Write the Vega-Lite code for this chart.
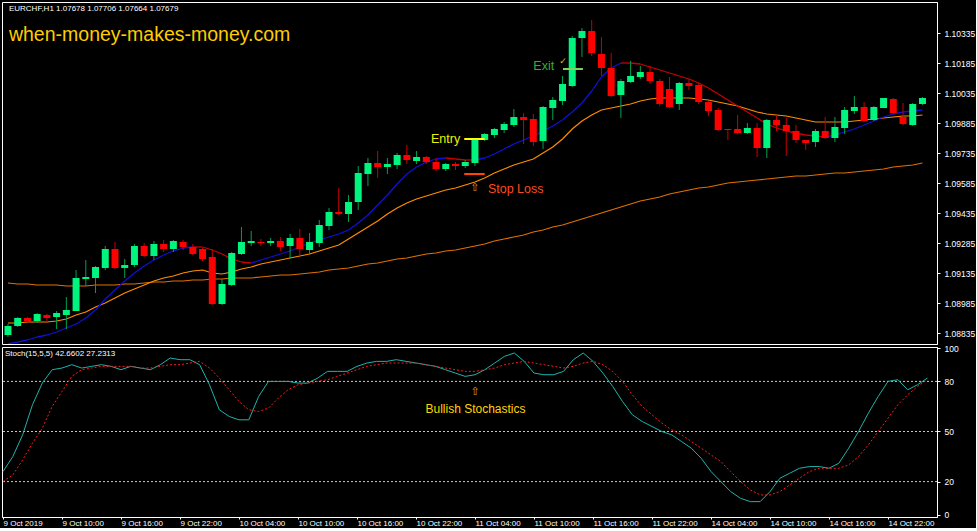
{
  "$schema": "https://vega.github.io/schema/vega-lite/v6.json",
  "background": "#000000",
  "padding": {"left": 1, "top": 1, "right": 0, "bottom": 0},
  "bounds": "flush",
  "config": {
    "view": {"stroke": "#ffffff", "strokeWidth": 1},
    "axis": {"labelFont": "Liberation Sans", "labelColor": "#ffffff", "domainColor": "#ffffff", "tickColor": "#ffffff", "grid": false, "labelOverlap": false},
    "text": {"font": "Liberation Sans"}
  },
  "datasets": {
    "bars": [
      {"i":0,"o":1.08825,"h":1.0888,"l":1.08815,"c":1.0887,"fast":1.0878,"mid":1.08885,"slow":1.09085,"k":26,"d":20},
      {"i":1,"o":1.0887,"h":1.08915,"l":1.08865,"c":1.0891,"fast":1.0879,"mid":1.08885,"slow":1.0908,"k":35,"d":24},
      {"i":2,"o":1.0891,"h":1.08915,"l":1.0889,"c":1.08895,"fast":1.088,"mid":1.0889,"slow":1.0908,"k":48,"d":33},
      {"i":3,"o":1.08895,"h":1.08935,"l":1.08885,"c":1.0893,"fast":1.08815,"mid":1.0889,"slow":1.09075,"k":66,"d":43},
      {"i":4,"o":1.08925,"h":1.0893,"l":1.0889,"c":1.0891,"fast":1.08825,"mid":1.0889,"slow":1.09075,"k":79,"d":52},
      {"i":5,"o":1.08915,"h":1.08945,"l":1.08855,"c":1.08935,"fast":1.0884,"mid":1.08895,"slow":1.09075,"k":87,"d":65},
      {"i":6,"o":1.08925,"h":1.09015,"l":1.08855,"c":1.0895,"fast":1.0886,"mid":1.08905,"slow":1.0907,"k":88,"d":74},
      {"i":7,"o":1.08945,"h":1.0915,"l":1.08945,"c":1.0911,"fast":1.0888,"mid":1.08925,"slow":1.0907,"k":90,"d":83},
      {"i":8,"o":1.09105,"h":1.092,"l":1.0907,"c":1.09115,"fast":1.0891,"mid":1.0894,"slow":1.0907,"k":88,"d":87},
      {"i":9,"o":1.0911,"h":1.0917,"l":1.09035,"c":1.09165,"fast":1.0895,"mid":1.08965,"slow":1.09075,"k":89,"d":88},
      {"i":10,"o":1.0916,"h":1.0927,"l":1.0915,"c":1.09255,"fast":1.09005,"mid":1.08985,"slow":1.09075,"k":90,"d":89},
      {"i":11,"o":1.09255,"h":1.0929,"l":1.09155,"c":1.0916,"fast":1.0905,"mid":1.0901,"slow":1.09075,"k":89,"d":89},
      {"i":12,"o":1.0916,"h":1.09205,"l":1.0911,"c":1.09175,"fast":1.09095,"mid":1.09035,"slow":1.0908,"k":87,"d":89},
      {"i":13,"o":1.09175,"h":1.0928,"l":1.09165,"c":1.0927,"fast":1.09135,"mid":1.09055,"slow":1.0908,"k":89,"d":89},
      {"i":14,"o":1.0927,"h":1.09285,"l":1.09215,"c":1.0922,"fast":1.0917,"mid":1.09075,"slow":1.09085,"k":88,"d":88},
      {"i":15,"o":1.0922,"h":1.09295,"l":1.092,"c":1.0928,"fast":1.092,"mid":1.09095,"slow":1.0909,"k":87,"d":88},
      {"i":16,"o":1.0928,"h":1.093,"l":1.0924,"c":1.09255,"fast":1.09225,"mid":1.0911,"slow":1.0909,"k":90,"d":89},
      {"i":17,"o":1.09255,"h":1.093,"l":1.0924,"c":1.09295,"fast":1.09245,"mid":1.0912,"slow":1.09095,"k":94,"d":90},
      {"i":18,"o":1.0929,"h":1.093,"l":1.0925,"c":1.09265,"fast":1.0926,"mid":1.09135,"slow":1.09095,"k":93,"d":90},
      {"i":19,"o":1.09265,"h":1.0928,"l":1.09225,"c":1.0923,"fast":1.09265,"mid":1.09145,"slow":1.091,"k":93,"d":91},
      {"i":20,"o":1.09255,"h":1.0926,"l":1.09195,"c":1.09205,"fast":1.09265,"mid":1.0915,"slow":1.091,"k":90,"d":92},
      {"i":21,"o":1.09215,"h":1.09255,"l":1.08975,"c":1.0898,"fast":1.0925,"mid":1.09135,"slow":1.09105,"k":78,"d":88},
      {"i":22,"o":1.0898,"h":1.09105,"l":1.08975,"c":1.0908,"fast":1.0923,"mid":1.0913,"slow":1.09105,"k":63,"d":82},
      {"i":23,"o":1.09075,"h":1.0924,"l":1.0907,"c":1.09235,"fast":1.09205,"mid":1.0914,"slow":1.0911,"k":59,"d":75},
      {"i":24,"o":1.0923,"h":1.09365,"l":1.09225,"c":1.0929,"fast":1.0919,"mid":1.09155,"slow":1.0911,"k":57,"d":68},
      {"i":25,"o":1.09285,"h":1.09345,"l":1.0927,"c":1.09295,"fast":1.09185,"mid":1.09165,"slow":1.0911,"k":57,"d":63},
      {"i":26,"o":1.0929,"h":1.09305,"l":1.0927,"c":1.09285,"fast":1.092,"mid":1.0918,"slow":1.09115,"k":71,"d":62},
      {"i":27,"o":1.09285,"h":1.0931,"l":1.0927,"c":1.09295,"fast":1.09215,"mid":1.0919,"slow":1.0912,"k":80,"d":64},
      {"i":28,"o":1.09295,"h":1.09315,"l":1.09245,"c":1.09265,"fast":1.0923,"mid":1.092,"slow":1.09125,"k":80,"d":70},
      {"i":29,"o":1.0927,"h":1.0933,"l":1.09205,"c":1.0931,"fast":1.09245,"mid":1.0921,"slow":1.09125,"k":80,"d":75},
      {"i":30,"o":1.0931,"h":1.09355,"l":1.0922,"c":1.09255,"fast":1.09265,"mid":1.0922,"slow":1.0913,"k":79,"d":78},
      {"i":31,"o":1.0925,"h":1.09335,"l":1.0923,"c":1.0929,"fast":1.09285,"mid":1.0923,"slow":1.09135,"k":79,"d":79},
      {"i":32,"o":1.09285,"h":1.094,"l":1.09265,"c":1.09375,"fast":1.093,"mid":1.09245,"slow":1.0914,"k":82,"d":80},
      {"i":33,"o":1.0937,"h":1.0946,"l":1.0935,"c":1.0944,"fast":1.09315,"mid":1.0926,"slow":1.0915,"k":86,"d":81},
      {"i":34,"o":1.0944,"h":1.0956,"l":1.09425,"c":1.0943,"fast":1.0933,"mid":1.09275,"slow":1.09155,"k":86,"d":83},
      {"i":35,"o":1.0943,"h":1.09525,"l":1.0939,"c":1.0949,"fast":1.0935,"mid":1.09305,"slow":1.0916,"k":86,"d":85},
      {"i":36,"o":1.0949,"h":1.0967,"l":1.0945,"c":1.09635,"fast":1.09385,"mid":1.09335,"slow":1.0917,"k":89,"d":87},
      {"i":37,"o":1.0963,"h":1.0971,"l":1.0957,"c":1.09685,"fast":1.09425,"mid":1.09365,"slow":1.0918,"k":91,"d":89},
      {"i":38,"o":1.09685,"h":1.09745,"l":1.0961,"c":1.09665,"fast":1.09475,"mid":1.09395,"slow":1.09185,"k":92,"d":90},
      {"i":39,"o":1.09665,"h":1.0971,"l":1.0963,"c":1.0968,"fast":1.09525,"mid":1.0943,"slow":1.09195,"k":92,"d":91},
      {"i":40,"o":1.09675,"h":1.09735,"l":1.09655,"c":1.09725,"fast":1.0958,"mid":1.0946,"slow":1.09205,"k":93,"d":91},
      {"i":41,"o":1.09725,"h":1.09775,"l":1.0968,"c":1.097,"fast":1.0963,"mid":1.09485,"slow":1.0921,"k":92,"d":91},
      {"i":42,"o":1.09695,"h":1.09745,"l":1.0968,"c":1.09715,"fast":1.09665,"mid":1.09505,"slow":1.0922,"k":91,"d":91},
      {"i":43,"o":1.09715,"h":1.0972,"l":1.0968,"c":1.0969,"fast":1.0969,"mid":1.0952,"slow":1.0923,"k":90,"d":90},
      {"i":44,"o":1.0969,"h":1.0971,"l":1.09645,"c":1.09655,"fast":1.09705,"mid":1.09535,"slow":1.09235,"k":89,"d":89},
      {"i":45,"o":1.09655,"h":1.09685,"l":1.09645,"c":1.0968,"fast":1.0971,"mid":1.0955,"slow":1.09245,"k":87,"d":88},
      {"i":46,"o":1.0968,"h":1.0969,"l":1.0965,"c":1.0967,"fast":1.09705,"mid":1.0956,"slow":1.0925,"k":85,"d":87},
      {"i":47,"o":1.0967,"h":1.097,"l":1.0966,"c":1.0969,"fast":1.097,"mid":1.09575,"slow":1.0926,"k":83,"d":86},
      {"i":48,"o":1.09685,"h":1.0981,"l":1.0967,"c":1.098,"fast":1.097,"mid":1.0959,"slow":1.0927,"k":84,"d":86},
      {"i":49,"o":1.098,"h":1.09835,"l":1.09795,"c":1.0983,"fast":1.0971,"mid":1.0961,"slow":1.0928,"k":87,"d":87},
      {"i":50,"o":1.09825,"h":1.0986,"l":1.0981,"c":1.09855,"fast":1.0973,"mid":1.09635,"slow":1.09295,"k":91,"d":88},
      {"i":51,"o":1.0985,"h":1.0989,"l":1.09835,"c":1.0988,"fast":1.09755,"mid":1.09655,"slow":1.09305,"k":95,"d":90},
      {"i":52,"o":1.09875,"h":1.09955,"l":1.09865,"c":1.09915,"fast":1.0978,"mid":1.09675,"slow":1.09315,"k":97,"d":91},
      {"i":53,"o":1.09915,"h":1.09935,"l":1.0978,"c":1.099,"fast":1.098,"mid":1.0969,"slow":1.09325,"k":92,"d":92},
      {"i":54,"o":1.09905,"h":1.0993,"l":1.0977,"c":1.0979,"fast":1.0982,"mid":1.09705,"slow":1.0934,"k":85,"d":91},
      {"i":55,"o":1.09795,"h":1.0997,"l":1.09755,"c":1.09965,"fast":1.09845,"mid":1.09735,"slow":1.0935,"k":84,"d":90},
      {"i":56,"o":1.0996,"h":1.10015,"l":1.099,"c":1.1,"fast":1.0987,"mid":1.09765,"slow":1.09365,"k":84,"d":89},
      {"i":57,"o":1.09995,"h":1.1012,"l":1.09975,"c":1.1008,"fast":1.099,"mid":1.09805,"slow":1.09375,"k":86,"d":88},
      {"i":58,"o":1.1007,"h":1.1032,"l":1.10065,"c":1.1031,"fast":1.0994,"mid":1.09855,"slow":1.0939,"k":93,"d":89},
      {"i":59,"o":1.1031,"h":1.1036,"l":1.10215,"c":1.10345,"fast":1.09985,"mid":1.09895,"slow":1.09405,"k":97,"d":91},
      {"i":60,"o":1.10345,"h":1.104,"l":1.1022,"c":1.10235,"fast":1.10045,"mid":1.09925,"slow":1.0942,"k":92,"d":92},
      {"i":61,"o":1.1023,"h":1.10315,"l":1.1012,"c":1.1016,"fast":1.10115,"mid":1.0995,"slow":1.09435,"k":85,"d":90},
      {"i":62,"o":1.1016,"h":1.10235,"l":1.10015,"c":1.1002,"fast":1.1016,"mid":1.0996,"slow":1.0945,"k":77,"d":86},
      {"i":63,"o":1.10025,"h":1.10105,"l":1.0991,"c":1.10095,"fast":1.10185,"mid":1.0997,"slow":1.09465,"k":68,"d":80},
      {"i":64,"o":1.1009,"h":1.10195,"l":1.10085,"c":1.1012,"fast":1.10185,"mid":1.0998,"slow":1.0948,"k":60,"d":72},
      {"i":65,"o":1.10115,"h":1.1017,"l":1.10105,"c":1.1014,"fast":1.1018,"mid":1.09995,"slow":1.09495,"k":56,"d":65},
      {"i":66,"o":1.1014,"h":1.1017,"l":1.1008,"c":1.10095,"fast":1.10165,"mid":1.10005,"slow":1.09505,"k":53,"d":60},
      {"i":67,"o":1.10095,"h":1.10105,"l":1.0997,"c":1.0998,"fast":1.1015,"mid":1.1001,"slow":1.09515,"k":50,"d":55},
      {"i":68,"o":1.10055,"h":1.10115,"l":1.0996,"c":1.09965,"fast":1.10135,"mid":1.1001,"slow":1.0953,"k":48,"d":51},
      {"i":69,"o":1.0998,"h":1.1009,"l":1.0995,"c":1.10085,"fast":1.1012,"mid":1.1001,"slow":1.0954,"k":44,"d":48},
      {"i":70,"o":1.10085,"h":1.10105,"l":1.1005,"c":1.1007,"fast":1.10105,"mid":1.1001,"slow":1.0955,"k":40,"d":44},
      {"i":71,"o":1.10075,"h":1.10085,"l":1.0998,"c":1.0999,"fast":1.10085,"mid":1.10005,"slow":1.0956,"k":34,"d":40},
      {"i":72,"o":1.0999,"h":1.09995,"l":1.0992,"c":1.09945,"fast":1.1006,"mid":1.1,"slow":1.09565,"k":26,"d":36},
      {"i":73,"o":1.0995,"h":1.0996,"l":1.09845,"c":1.0985,"fast":1.1003,"mid":1.0999,"slow":1.09575,"k":20,"d":32},
      {"i":74,"o":1.09855,"h":1.09855,"l":1.098,"c":1.0985,"fast":1.1,"mid":1.0998,"slow":1.09585,"k":14,"d":26},
      {"i":75,"o":1.09855,"h":1.09925,"l":1.0983,"c":1.09835,"fast":1.0997,"mid":1.0997,"slow":1.0959,"k":10,"d":20},
      {"i":76,"o":1.09835,"h":1.09885,"l":1.0983,"c":1.0986,"fast":1.0994,"mid":1.09955,"slow":1.09595,"k":8,"d":15},
      {"i":77,"o":1.0986,"h":1.09885,"l":1.09715,"c":1.0976,"fast":1.0991,"mid":1.0994,"slow":1.096,"k":8,"d":12},
      {"i":78,"o":1.0976,"h":1.09905,"l":1.0971,"c":1.099,"fast":1.0988,"mid":1.0993,"slow":1.09605,"k":14,"d":12},
      {"i":79,"o":1.099,"h":1.09925,"l":1.09845,"c":1.09875,"fast":1.0986,"mid":1.09925,"slow":1.0961,"k":22,"d":14},
      {"i":80,"o":1.09875,"h":1.0991,"l":1.0972,"c":1.09845,"fast":1.09845,"mid":1.0992,"slow":1.09615,"k":25,"d":18},
      {"i":81,"o":1.09845,"h":1.09875,"l":1.09785,"c":1.098,"fast":1.09835,"mid":1.0991,"slow":1.0962,"k":28,"d":22},
      {"i":82,"o":1.098,"h":1.098,"l":1.0975,"c":1.09785,"fast":1.09825,"mid":1.099,"slow":1.0962,"k":29,"d":26},
      {"i":83,"o":1.0979,"h":1.09855,"l":1.09765,"c":1.09845,"fast":1.0982,"mid":1.0989,"slow":1.09625,"k":29,"d":28},
      {"i":84,"o":1.09845,"h":1.09915,"l":1.09805,"c":1.0981,"fast":1.09815,"mid":1.0989,"slow":1.0963,"k":28,"d":28},
      {"i":85,"o":1.0981,"h":1.09915,"l":1.0979,"c":1.09865,"fast":1.09825,"mid":1.0989,"slow":1.09635,"k":31,"d":28},
      {"i":86,"o":1.0986,"h":1.09965,"l":1.0983,"c":1.0995,"fast":1.0984,"mid":1.0989,"slow":1.09635,"k":40,"d":30},
      {"i":87,"o":1.09945,"h":1.1002,"l":1.0993,"c":1.09965,"fast":1.09855,"mid":1.09895,"slow":1.0964,"k":50,"d":35},
      {"i":88,"o":1.09965,"h":1.0999,"l":1.0989,"c":1.09895,"fast":1.09875,"mid":1.099,"slow":1.09645,"k":61,"d":42},
      {"i":89,"o":1.099,"h":1.0997,"l":1.09895,"c":1.09965,"fast":1.09895,"mid":1.09905,"slow":1.0965,"k":71,"d":50},
      {"i":90,"o":1.0996,"h":1.1001,"l":1.0996,"c":1.1001,"fast":1.09915,"mid":1.0991,"slow":1.09655,"k":80,"d":58},
      {"i":91,"o":1.10005,"h":1.1001,"l":1.0993,"c":1.09935,"fast":1.0993,"mid":1.09915,"slow":1.09665,"k":81,"d":66},
      {"i":92,"o":1.09915,"h":1.09985,"l":1.09875,"c":1.0988,"fast":1.0994,"mid":1.0992,"slow":1.0967,"k":75,"d":72},
      {"i":93,"o":1.09875,"h":1.09985,"l":1.0987,"c":1.0998,"fast":1.09945,"mid":1.0992,"slow":1.09675,"k":78,"d":77},
      {"i":94,"o":1.0998,"h":1.10015,"l":1.09975,"c":1.1001,"fast":1.0995,"mid":1.09925,"slow":1.09685,"k":82,"d":81}
    ],
    "levels": [
      {"name": "Entry", "from": 46.9, "to": 49.0, "p": 1.09805},
      {"name": "Stop Loss", "from": 46.9, "to": 49.0, "p": 1.0963},
      {"name": "Exit", "from": 57.05, "to": 59.1, "p": 1.10155}
    ]
  },
  "vconcat": [
    {
      "width": 935,
      "height": 342,
      "encoding": {
        "x": {"field": "i", "type": "quantitative", "scale": {"domain": [-0.1, 94.98], "nice": false, "zero": false}, "axis": null}
      },
      "layer": [
        {
          "data": {"name": "bars"},
          "mark": {"type": "line", "color": "#E07000", "strokeWidth": 1.2, "clip": true},
          "encoding": {
            "y": {"field": "slow", "type": "quantitative", "scale": {"domain": [1.0878, 1.1049], "nice": false, "zero": false},
              "axis": {"orient": "right", "title": null, "values": [1.08835, 1.08985, 1.09135, 1.09285, 1.09435, 1.09585, 1.09735, 1.09885, 1.10035, 1.10185, 1.10335], "format": ".5f", "labelFontSize": 8.5, "tickSize": 3, "labelPadding": 4}}
          }
        },
        {
          "data": {"name": "bars"},
          "mark": {"type": "line", "color": "#FF8C00", "strokeWidth": 1.2, "clip": true},
          "encoding": {"y": {"field": "mid", "type": "quantitative",
            "axis": {"orient": "right", "title": null, "values": [1.08835, 1.08985, 1.09135, 1.09285, 1.09435, 1.09585, 1.09735, 1.09885, 1.10035, 1.10185, 1.10335], "format": ".5f", "labelFontSize": 8.5, "tickSize": 3, "labelPadding": 4}}}
        },
        {
          "data": {"name": "bars"},
          "transform": [
            {"window": [{"op": "lead", "field": "fast", "as": "fast2"}, {"op": "lead", "field": "i", "as": "i2"}], "sort": [{"field": "i", "order": "ascending"}]},
            {"filter": "isValid(datum.i2)"}
          ],
          "mark": {"type": "rule", "strokeWidth": 1.3, "clip": true},
          "encoding": {
            "x2": {"field": "i2"},
            "y": {"field": "fast", "type": "quantitative",
              "axis": {"orient": "right", "title": null, "values": [1.08835, 1.08985, 1.09135, 1.09285, 1.09435, 1.09585, 1.09735, 1.09885, 1.10035, 1.10185, 1.10335], "format": ".5f", "labelFontSize": 8.5, "tickSize": 3, "labelPadding": 4}},
            "y2": {"field": "fast2"},
            "color": {"condition": {"test": "datum.fast2 > datum.fast", "value": "#1010D8"}, "value": "#C80000"}
          }
        },
        {
          "data": {"name": "bars"},
          "mark": {"type": "rule", "strokeWidth": 1},
          "encoding": {
            "y": {"field": "l", "type": "quantitative",
              "axis": {"orient": "right", "title": null, "values": [1.08835, 1.08985, 1.09135, 1.09285, 1.09435, 1.09585, 1.09735, 1.09885, 1.10035, 1.10185, 1.10335], "format": ".5f", "labelFontSize": 8.5, "tickSize": 3, "labelPadding": 4}},
            "y2": {"field": "h"},
            "color": {"condition": {"test": "datum.c >= datum.o", "value": "#00A050"}, "value": "#C80000"}
          }
        },
        {
          "data": {"name": "bars"},
          "mark": {"type": "bar", "size": 7},
          "encoding": {
            "y": {"field": "o", "type": "quantitative",
              "axis": {"orient": "right", "title": null, "values": [1.08835, 1.08985, 1.09135, 1.09285, 1.09435, 1.09585, 1.09735, 1.09885, 1.10035, 1.10185, 1.10335], "format": ".5f", "labelFontSize": 8.5, "tickSize": 3, "labelPadding": 4}},
            "y2": {"field": "c"},
            "color": {"condition": {"test": "datum.c >= datum.o", "value": "#00F57F"}, "value": "#FF0000"}
          }
        },
        {
          "data": {"name": "levels"},
          "mark": {"type": "rule", "strokeWidth": 2},
          "encoding": {
            "x": {"field": "from", "type": "quantitative"},
            "x2": {"field": "to"},
            "y": {"field": "p", "type": "quantitative",
              "axis": {"orient": "right", "title": null, "values": [1.08835, 1.08985, 1.09135, 1.09285, 1.09435, 1.09585, 1.09735, 1.09885, 1.10035, 1.10185, 1.10335], "format": ".5f", "labelFontSize": 8.5, "tickSize": 3, "labelPadding": 4}},
            "color": {"field": "name", "type": "nominal", "scale": {"domain": ["Entry", "Stop Loss", "Exit"], "range": ["#FFFF00", "#FF4500", "#80D060"]}, "legend": null}
          }
        },
        {
          "data": {"values": [
            {"t": "EURCHF,H1  1.07678 1.07706 1.07664 1.07679", "i": 0.1, "p": 1.10445, "kind": "header"},
            {"t": "when-money-makes-money.com", "i": 0.1, "p": 1.10295, "kind": "site"},
            {"t": "Entry", "i": 46.48, "p": 1.09805, "kind": "entry"},
            {"t": "Stop Loss", "i": 49.33, "p": 1.09555, "kind": "stop"},
            {"t": "Exit", "i": 54.0, "p": 1.1017, "kind": "exit"},
            {"t": "✓", "i": 57.05, "p": 1.10195, "kind": "check"},
            {"t": "⇧", "i": 48.0, "p": 1.0956, "kind": "arrow"}
          ]},
          "layer": [
            {
              "transform": [{"filter": "datum.kind == 'header'"}],
              "mark": {"type": "text", "align": "left", "baseline": "alphabetic", "fontSize": 8, "color": "#ffffff"},
              "encoding": {"y": {"field": "p", "type": "quantitative", "axis": {"orient": "right", "title": null, "values": [1.08835, 1.08985, 1.09135, 1.09285, 1.09435, 1.09585, 1.09735, 1.09885, 1.10035, 1.10185, 1.10335], "format": ".5f", "labelFontSize": 8.5, "tickSize": 3, "labelPadding": 4}}, "text": {"field": "t"}}
            },
            {
              "transform": [{"filter": "datum.kind == 'site'"}],
              "mark": {"type": "text", "align": "left", "baseline": "alphabetic", "fontSize": 19.5, "color": "#FFCC00"},
              "encoding": {"y": {"field": "p", "type": "quantitative", "axis": {"orient": "right", "title": null, "values": [1.08835, 1.08985, 1.09135, 1.09285, 1.09435, 1.09585, 1.09735, 1.09885, 1.10035, 1.10185, 1.10335], "format": ".5f", "labelFontSize": 8.5, "tickSize": 3, "labelPadding": 4}}, "text": {"field": "t"}}
            },
            {
              "transform": [{"filter": "datum.kind == 'entry'"}],
              "mark": {"type": "text", "align": "right", "baseline": "middle", "fontSize": 12.5, "color": "#F0F000"},
              "encoding": {"y": {"field": "p", "type": "quantitative", "axis": {"orient": "right", "title": null, "values": [1.08835, 1.08985, 1.09135, 1.09285, 1.09435, 1.09585, 1.09735, 1.09885, 1.10035, 1.10185, 1.10335], "format": ".5f", "labelFontSize": 8.5, "tickSize": 3, "labelPadding": 4}}, "text": {"field": "t"}}
            },
            {
              "transform": [{"filter": "datum.kind == 'stop'"}],
              "mark": {"type": "text", "align": "left", "baseline": "middle", "fontSize": 12.5, "color": "#FF4A1A"},
              "encoding": {"y": {"field": "p", "type": "quantitative", "axis": {"orient": "right", "title": null, "values": [1.08835, 1.08985, 1.09135, 1.09285, 1.09435, 1.09585, 1.09735, 1.09885, 1.10035, 1.10185, 1.10335], "format": ".5f", "labelFontSize": 8.5, "tickSize": 3, "labelPadding": 4}}, "text": {"field": "t"}}
            },
            {
              "transform": [{"filter": "datum.kind == 'exit'"}],
              "mark": {"type": "text", "align": "left", "baseline": "middle", "fontSize": 12.5, "color": "#34B034"},
              "encoding": {"y": {"field": "p", "type": "quantitative", "axis": {"orient": "right", "title": null, "values": [1.08835, 1.08985, 1.09135, 1.09285, 1.09435, 1.09585, 1.09735, 1.09885, 1.10035, 1.10185, 1.10335], "format": ".5f", "labelFontSize": 8.5, "tickSize": 3, "labelPadding": 4}}, "text": {"field": "t"}}
            },
            {
              "transform": [{"filter": "datum.kind == 'check'"}],
              "mark": {"type": "text", "align": "center", "baseline": "middle", "fontSize": 9, "font": "DejaVu Sans", "color": "#E8B800"},
              "encoding": {"y": {"field": "p", "type": "quantitative", "axis": {"orient": "right", "title": null, "values": [1.08835, 1.08985, 1.09135, 1.09285, 1.09435, 1.09585, 1.09735, 1.09885, 1.10035, 1.10185, 1.10335], "format": ".5f", "labelFontSize": 8.5, "tickSize": 3, "labelPadding": 4}}, "text": {"field": "t"}}
            },
            {
              "transform": [{"filter": "datum.kind == 'arrow'"}],
              "mark": {"type": "text", "align": "center", "baseline": "middle", "fontSize": 11, "font": "DejaVu Sans", "color": "#D4A017"},
              "encoding": {"y": {"field": "p", "type": "quantitative", "axis": {"orient": "right", "title": null, "values": [1.08835, 1.08985, 1.09135, 1.09285, 1.09435, 1.09585, 1.09735, 1.09885, 1.10035, 1.10185, 1.10335], "format": ".5f", "labelFontSize": 8.5, "tickSize": 3, "labelPadding": 4}}, "text": {"field": "t"}}
            }
          ]
        }
      ]
    },
    {
      "width": 935,
      "height": 170,
      "encoding": {
        "x": {"field": "i", "type": "quantitative", "scale": {"domain": [-0.1, 94.98], "nice": false, "zero": false},
          "axis": {"orient": "bottom", "title": null, "values": [0, 6, 12, 18, 24, 30, 36, 42, 48, 54, 60, 66, 72, 78, 84, 90],
            "labelExpr": "['9 Oct 2019','9 Oct 10:00','9 Oct 16:00','9 Oct 22:00','10 Oct 04:00','10 Oct 10:00','10 Oct 16:00','10 Oct 22:00','11 Oct 04:00','11 Oct 10:00','11 Oct 16:00','11 Oct 22:00','14 Oct 04:00','14 Oct 10:00','14 Oct 16:00','14 Oct 22:00'][round(datum.value/6)]",
            "labelAlign": "left", "labelFontSize": 8, "tickSize": 2, "labelPadding": 0, "labelBound": false}}
      },
      "layer": [
        {
          "data": {"values": [{"lv": 20}, {"lv": 50}, {"lv": 80}]},
          "mark": {"type": "rule", "color": "#C8C8C8", "strokeWidth": 1, "strokeDash": [2, 2]},
          "encoding": {
            "x": null,
            "y": {"field": "lv", "type": "quantitative", "scale": {"domain": [-1.2, 100.6], "nice": false, "zero": false},
              "axis": {"orient": "right", "title": null, "values": [0, 20, 50, 80, 100], "labelFontSize": 8.5, "tickSize": 3, "labelPadding": 4, "labelFlush": true}}
          }
        },
        {
          "data": {"name": "bars"},
          "mark": {"type": "line", "color": "#20B2AA", "strokeWidth": 1, "clip": true},
          "encoding": {"y": {"field": "k", "type": "quantitative",
            "axis": {"orient": "right", "title": null, "values": [0, 20, 50, 80, 100], "labelFontSize": 8.5, "tickSize": 3, "labelPadding": 4, "labelFlush": true}}}
        },
        {
          "data": {"name": "bars"},
          "mark": {"type": "line", "color": "#FF1A1A", "strokeWidth": 1, "strokeDash": [2, 2], "clip": true},
          "encoding": {"y": {"field": "d", "type": "quantitative",
            "axis": {"orient": "right", "title": null, "values": [0, 20, 50, 80, 100], "labelFontSize": 8.5, "tickSize": 3, "labelPadding": 4, "labelFlush": true}}}
        },
        {
          "data": {"values": [
            {"t": "Stoch(15,5,5) 42.6602 27.2313", "i": 0.2, "p": 95.2, "kind": "header"},
            {"t": "⇧", "i": 48.0, "p": 73.7, "kind": "arrow"},
            {"t": "Bullish Stochastics", "i": 48.05, "p": 63.5, "kind": "note"}
          ]},
          "layer": [
            {
              "transform": [{"filter": "datum.kind == 'header'"}],
              "mark": {"type": "text", "align": "left", "baseline": "alphabetic", "fontSize": 8, "color": "#ffffff"},
              "encoding": {"y": {"field": "p", "type": "quantitative", "axis": {"orient": "right", "title": null, "values": [0, 20, 50, 80, 100], "labelFontSize": 8.5, "tickSize": 3, "labelPadding": 4, "labelFlush": true}}, "text": {"field": "t"}}
            },
            {
              "transform": [{"filter": "datum.kind == 'arrow'"}],
              "mark": {"type": "text", "align": "center", "baseline": "middle", "fontSize": 11, "font": "DejaVu Sans", "color": "#D4A017"},
              "encoding": {"y": {"field": "p", "type": "quantitative", "axis": {"orient": "right", "title": null, "values": [0, 20, 50, 80, 100], "labelFontSize": 8.5, "tickSize": 3, "labelPadding": 4, "labelFlush": true}}, "text": {"field": "t"}}
            },
            {
              "transform": [{"filter": "datum.kind == 'note'"}],
              "mark": {"type": "text", "align": "center", "baseline": "middle", "fontSize": 12, "color": "#FFD400"},
              "encoding": {"y": {"field": "p", "type": "quantitative", "axis": {"orient": "right", "title": null, "values": [0, 20, 50, 80, 100], "labelFontSize": 8.5, "tickSize": 3, "labelPadding": 4, "labelFlush": true}}, "text": {"field": "t"}}
            }
          ]
        }
      ]
    }
  ],
  "spacing": 3
}
